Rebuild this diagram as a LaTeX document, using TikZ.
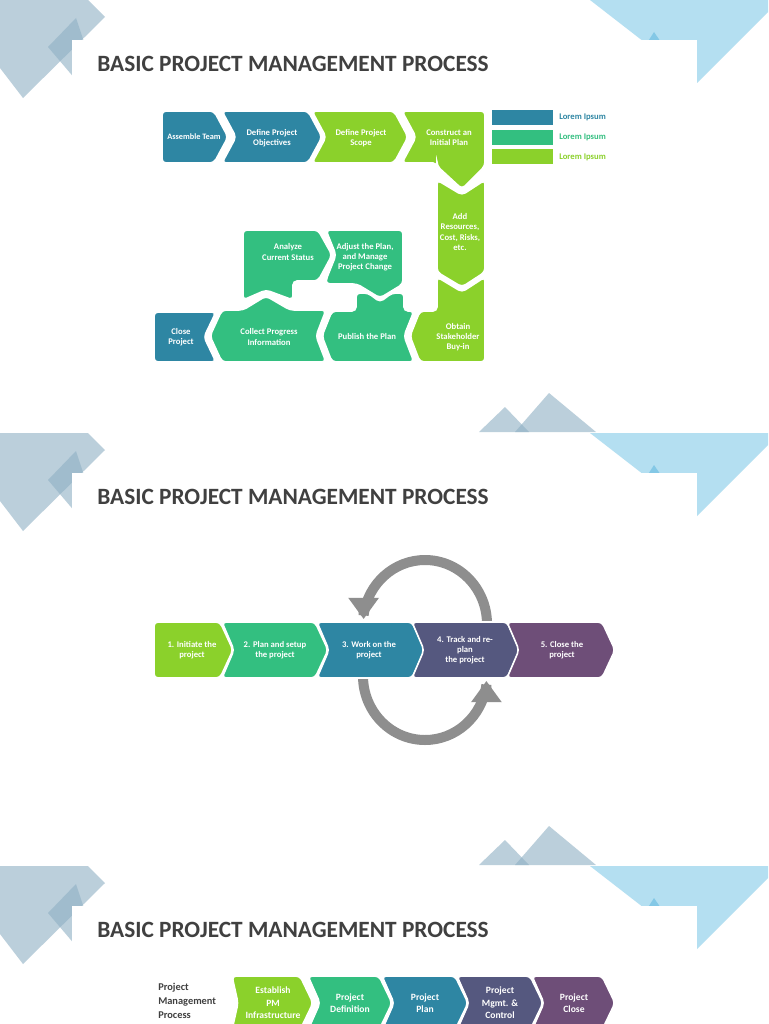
\documentclass[tikz,border=0pt]{standalone}
\usepackage{fontspec}
\setmainfont{Carlito}
\usetikzlibrary{arrows.meta}
\definecolor{cblue}{HTML}{2E86A3}
\definecolor{cteal}{HTML}{33BF80}
\definecolor{clime}{HTML}{8BD12B}
\definecolor{cpurb}{HTML}{55587F}
\definecolor{cpurp}{HTML}{6E4E78}
\definecolor{cgreyb}{HTML}{8FB0C4}
\definecolor{clblue}{HTML}{B4DFF1}
\definecolor{cdblue}{HTML}{84C8E6}
\definecolor{ctitle}{HTML}{404040}
\definecolor{carrow}{HTML}{8E8E8E}
\tikzset{
 blk/.style={draw=white,line width=1.2pt,rounded corners=3pt},
 lbl/.style={text=white,align=center,font=\bfseries\fontsize{6.5}{7.6}\selectfont,inner sep=0pt},
 ttl/.style={anchor=west,text=ctitle,font=\bfseries\fontsize{17.5}{19}\selectfont,inner sep=0pt},
 leg/.style={anchor=west,font=\bfseries\fontsize{6.5}{7.6}\selectfont,inner sep=0pt},
 tri/.style={fill=cgreyb,fill opacity=0.6}
}
\newcommand\chevr[6]{\fill[#5,blk] (#1,#3) -- ({#2-13},#3) -- (#2,{(#3+#4)/2}) -- ({#2-13},#4) -- (#1,#4) -- ({#1+#6},{(#3+#4)/2}) -- cycle;}
\newcommand\topdeco[1]{%
 \begin{scope}[shift={(0,#1)}]
  \fill[tri] (0,0) -- (88,0) -- (105,17) -- (23,98) -- (0,68) -- cycle;
  \fill[tri] (76,18) -- (48,47) -- (110,120) -- cycle;
  \fill[clblue] (590,0) -- (768,0) -- (768,12) -- (697,83) -- cycle;
  \fill[cdblue] (654,32) -- (630,70) -- (680,70) -- cycle;
  \fill[white] (72,40) rectangle (697,432);
 \end{scope}}
\newcommand\botdeco[1]{%
 \begin{scope}[shift={(0,#1)}]
  \fill[tri] (549,393) -- (515,432) -- (596,432) -- cycle;
  \fill[tri] (505,407) -- (479,432) -- (529,432) -- cycle;
 \end{scope}}
\begin{document}
\begin{tikzpicture}[x=0.75pt,y=-0.75pt]
\useasboundingbox (0,0) rectangle (768,1024);
\clip (0,0) rectangle (768,1024);
\fill[white] (0,0) rectangle (768,1024);
\topdeco{0}
\botdeco{0}
\topdeco{433}
\botdeco{433}
\topdeco{866}
\node[ttl] (t1) at (97,64) {BASIC PROJECT MANAGEMENT PROCESS};
\node[ttl] (t2) at (97,497) {BASIC PROJECT MANAGEMENT PROCESS};
\node[ttl] (t3) at (97,930) {BASIC PROJECT MANAGEMENT PROCESS};
% ---- slide 1
\fill[cblue,blk] (162,111) -- (214,111) -- (228,137) -- (214,163) -- (162,163) -- cycle;
\fill[cblue,blk] (222,111) -- (308,111) -- (322,137) -- (308,163) -- (222,163) -- (236,137) -- cycle;
\fill[clime,blk] (312,111) -- (394,111) -- (408,137) -- (394,163) -- (312,163) -- (326,137) -- cycle;
\fill[clime,blk] (402,111) -- (485,111) -- (485,166) -- (462,189) -- (437,166) -- (437,163) -- (402,163) -- (416,137) -- cycle;
\fill[clime,blk] (437,180) -- (462,195) -- (485,180) -- (485,272) -- (462,287) -- (437,272) -- cycle;
\fill[clime,blk] (437,277) -- (462,292) -- (485,277) -- (485,362) -- (420,362) -- (410,336) -- (420,311) -- (437,311) -- cycle;
\fill[cteal,blk] (332,311) -- (356,311) -- (356,293) -- (368,293) -- (380,302) -- (392,293) -- (404,293) -- (404,311) -- (414,311) -- (404,336) -- (414,362) -- (332,362) -- (322,336) -- cycle;
\fill[cteal,blk] (326,230) -- (403,230) -- (403,284) -- (380,298) -- (357,284) -- (326,284) -- (326,280) -- (336,255) -- cycle;
\fill[cteal,blk] (243,230) -- (318,230) -- (332,255) -- (318,281) -- (293,281) -- (293,300) -- (266,290) -- (243,300) -- cycle;
\fill[cteal,blk] (222,310) -- (243,310) -- (266,296) -- (290,310) -- (326,310) -- (316,336) -- (326,362) -- (222,362) -- (210,336) -- cycle;
\fill[cblue,blk] (154,312) -- (216,312) -- (204,337) -- (216,362) -- (154,362) -- cycle;
\node[lbl,font=\bfseries\fontsize{6.2}{7.6}\selectfont] (n1) at (194,137) {Assemble Team};
\node[lbl] (n2) at (272,138) {Define Project\\Objectives};
\node[lbl] (n3) at (361,138) {Define Project\\Scope};
\node[lbl] (n4) at (449,138) {Construct an\\Initial Plan};
\node[lbl] (n5) at (460,232) {Add\\Resources,\\Cost, Risks,\\etc.};
\node[lbl] (n6) at (458,337) {Obtain\\Stakeholder\\Buy-in};
\node[lbl] (n7) at (367,336) {Publish the Plan};
\node[lbl] (n8) at (365,257) {Adjust the Plan,\\and Manage\\Project Change};
\node[lbl] (n9) at (288,252) {Analyze\\Current Status};
\node[lbl] (n10) at (269,337) {Collect Progress\\Information};
\node[lbl] (n11) at (181,337) {Close\\Project};
\fill[cblue] (492,110) rectangle (553,125);
\fill[cteal] (492,130) rectangle (553,145);
\fill[clime] (492,149) rectangle (553,164);
\node[leg,text=cblue] (l1) at (559,117) {Lorem Ipsum};
\node[leg,text=cteal] (l2) at (559,137) {Lorem Ipsum};
\node[leg,text=clime] (l3) at (559,157) {Lorem Ipsum};
% ---- slide 2
\coordinate (ua) at (487,624);
\coordinate (la) at (363,676);
\draw[carrow,line width=7.5pt,-{Triangle[width=22pt,length=16pt]}] (ua) arc[start angle=0,end angle=-172,x radius=62,y radius=64] -- ++(0,4);
\draw[carrow,line width=7.5pt,-{Triangle[width=22pt,length=16pt]}] (la) arc[start angle=180,end angle=8,x radius=62,y radius=64] -- ++(0,-4);
\chevr{154}{233}{622}{678}{clime}{0}
\chevr{222}{328}{622}{678}{cteal}{12}
\chevr{317}{425}{622}{678}{cblue}{12}
\chevr{412}{520}{622}{678}{cpurb}{12}
\chevr{507}{615}{622}{678}{cpurp}{12}
\node[lbl] (s1) at (192,650) {1. Initiate the\\project};
\node[lbl] (s2) at (275,650) {2. Plan and setup\\the project};
\node[lbl] (s3) at (369,650) {3. Work on the\\project};
\node[lbl] (s4) at (465,650) {4. Track and re-\\plan\\the project};
\node[lbl] (s5) at (562,650) {5. Close the\\project};
% ---- slide 3
\chevr{232}{313}{976}{1030}{clime}{6}
\chevr{308}{392}{976}{1030}{cteal}{12}
\chevr{382}{468}{976}{1030}{cblue}{12}
\chevr{457}{543}{976}{1030}{cpurb}{12}
\chevr{532}{615}{976}{1030}{cpurp}{12}
\node[lbl,font=\bfseries\fontsize{7.2}{9.3}\selectfont] (p1) at (273,1003) {Establish\\PM\\Infrastructure};
\node[lbl,font=\bfseries\fontsize{7.2}{9.3}\selectfont] (p2) at (350,1003) {Project\\Definition};
\node[lbl,font=\bfseries\fontsize{7.2}{9.3}\selectfont] (p3) at (425,1003) {Project\\Plan};
\node[lbl,font=\bfseries\fontsize{7.2}{9.3}\selectfont] (p4) at (500,1003) {Project\\Mgmt. \&\\Control};
\node[lbl,font=\bfseries\fontsize{7.2}{9.3}\selectfont] (p5) at (574,1003) {Project\\Close};
\node[anchor=west,align=left,text=ctitle,font=\bfseries\fontsize{7.8}{10.5}\selectfont,inner sep=0pt] (pm) at (158,1001) {Project\\Management\\Process};
\end{tikzpicture}
\end{document}
